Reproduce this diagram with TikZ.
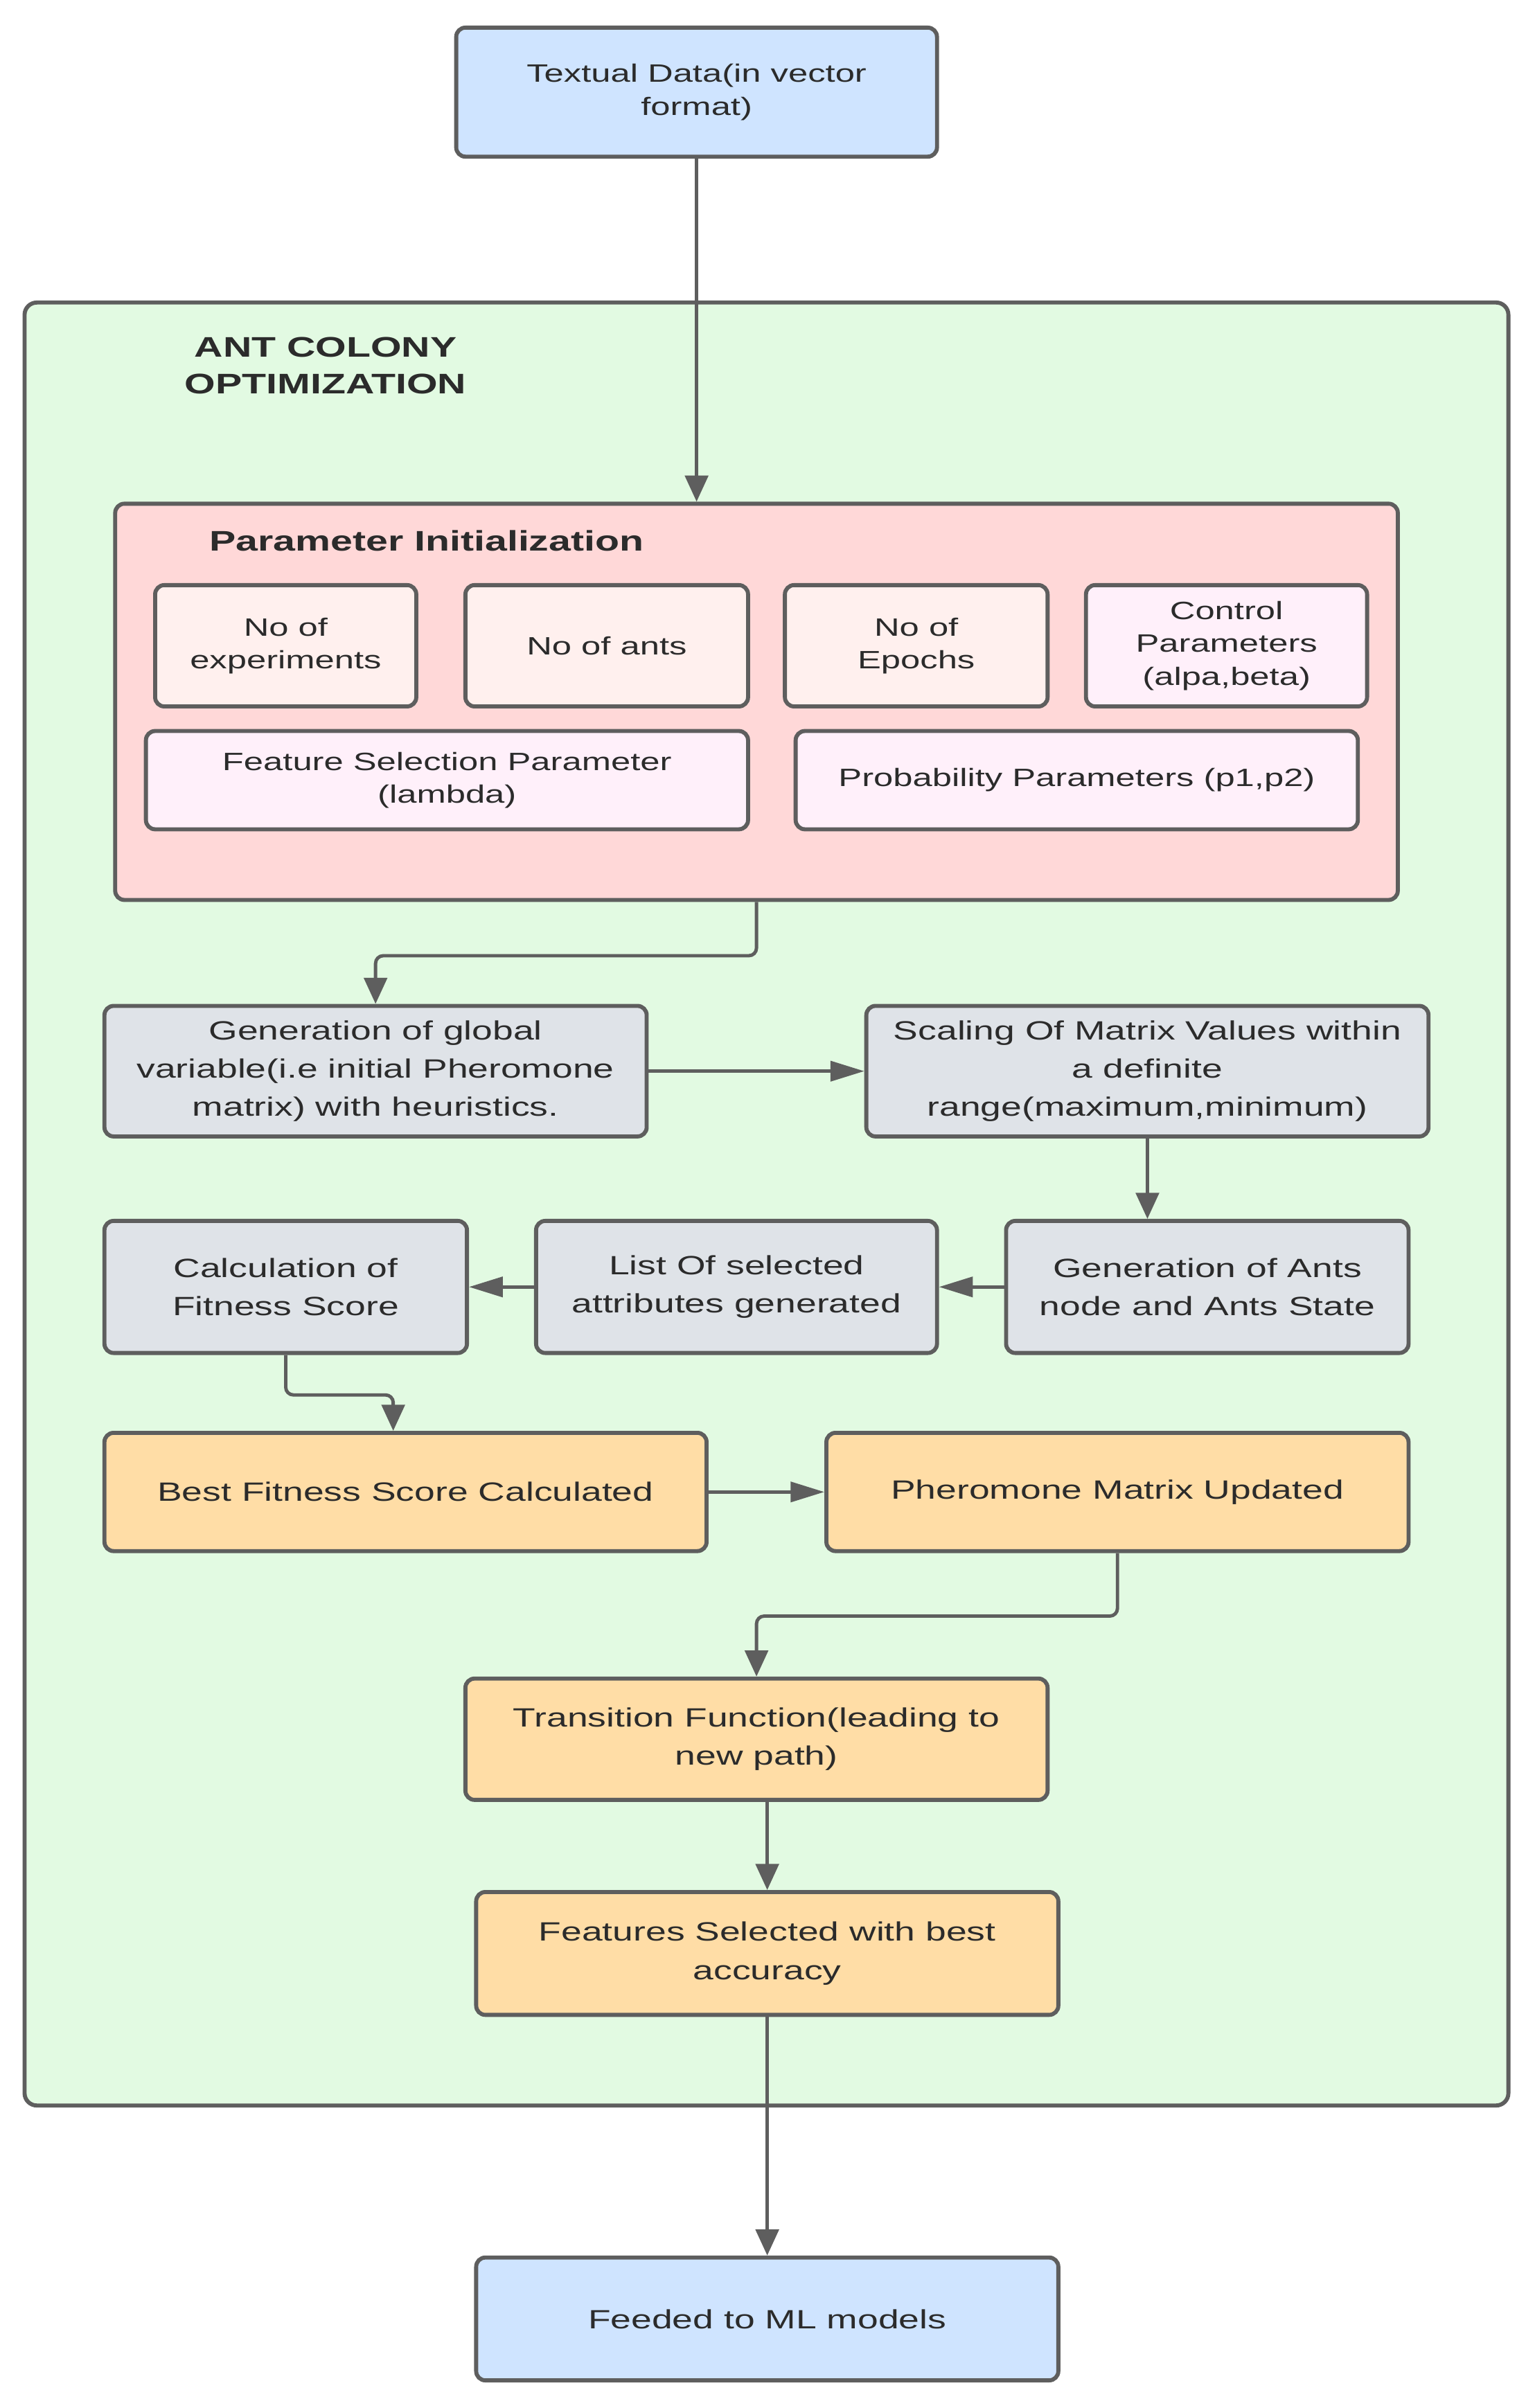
\documentclass[tikz,border=0pt]{standalone}
\usepackage{fontspec}
\setmainfont{Liberation Sans}[FakeStretch=1.4]
\usetikzlibrary{arrows.meta,positioning}
\definecolor{edge}{HTML}{5E5E5E}
\definecolor{ink}{HTML}{2B2B2B}
\definecolor{inblue}{HTML}{CFE4FF}
\definecolor{acogreen}{HTML}{E2FAE2}
\definecolor{parampink}{HTML}{FFD8D8}
\definecolor{subpink}{HTML}{FFF0EE}
\definecolor{sublilac}{HTML}{FFF0FA}
\definecolor{stepgray}{HTML}{DFE3E8}
\definecolor{resorange}{HTML}{FFDDA6}

\begin{document}
\begin{tikzpicture}[x=0.2mm,y=-0.2mm,box/.style={draw=edge,line width=1.5pt,rounded corners=1.2mm,align=center,text=ink,inner sep=0pt,font=\fontsize{9.8}{14.2}\selectfont},small/.style={font=\fontsize{9.3}{12.2}\selectfont},arr/.style={draw=edge,line width=1.25pt,-{Triangle[length=3.4mm,width=3mm]}},harr/.style={draw=edge,line width=1.25pt,-{Triangle[length=4.4mm,width=2.6mm]}}]
\useasboundingbox (0,0) rectangle (999,1568);
% outer ACO frame
\node[box,fill=acogreen,rounded corners=1.6mm,minimum width=193.2mm,minimum height=234.8mm] (aco) at (499,784) {};
\node[align=center,text=ink,font=\fontsize{10.5}{13.6}\selectfont\bfseries] (acotitle) at (212,238) {ANT COLONY\\OPTIMIZATION};
\node[box,small,fill=inblue,minimum width=62.6mm,minimum height=16.8mm] (txt) at (453.5,60) {Textual Data(in vector\\format)};
% parameter initialization
\node[box,fill=parampink,minimum width=167mm,minimum height=51.6mm] (param) at (492.5,457) {};
\node[anchor=west,inner sep=0pt,text=ink,font=\fontsize{10.5}{13}\selectfont\bfseries] (paramtitle) at (136,352) {Parameter Initialization};
\node[box,small,fill=subpink,minimum width=34mm,minimum height=15.8mm] (exp) at (186,420.5) {No of\\experiments};
\node[box,small,fill=subpink,minimum width=36.8mm,minimum height=15.8mm] (ants) at (395,420.5) {No of ants};
\node[box,small,fill=subpink,minimum width=34.2mm,minimum height=15.8mm] (epochs) at (596.5,420.5) {No of\\Epochs};
\node[box,small,fill=sublilac,minimum width=36.6mm,minimum height=15.8mm] (ctrl) at (798.5,420.5) {Control\\Parameters\\(alpa,beta)};
\node[box,small,fill=sublilac,minimum width=78.4mm,minimum height=12.8mm] (fsp) at (291,508) {Feature Selection Parameter\\(lambda)};
\node[box,small,fill=sublilac,minimum width=73.2mm,minimum height=12.8mm] (prob) at (701,508) {Probability Parameters (p1,p2)};
% search steps
\node[box,fill=stepgray,minimum width=70.6mm,minimum height=17mm] (glob) at (244.5,697.5) {Generation of global\\variable(i.e initial Pheromone\\matrix) with heuristics.};
\node[box,fill=stepgray,minimum width=73.2mm,minimum height=17mm] (scale) at (747,697.5) {Scaling Of Matrix Values within\\a definite\\range(maximum,minimum)};
\node[box,fill=stepgray,minimum width=47.2mm,minimum height=17.2mm] (calc) at (186,838) {Calculation of\\Fitness Score};
\node[box,fill=stepgray,minimum width=52.2mm,minimum height=17.2mm] (list) at (479.5,838) {List Of selected\\attributes generated};
\node[box,fill=stepgray,minimum width=52.4mm,minimum height=17.2mm] (antst) at (786,838) {Generation of Ants\\node and Ants State};
\node[box,fill=resorange,minimum width=78.4mm,minimum height=15.4mm] (best) at (264,971.5) {Best Fitness Score Calculated};
\node[box,fill=resorange,minimum width=75.8mm,minimum height=15.4mm] (phero) at (727.5,971.5) {Pheromone Matrix Updated};
\node[box,fill=resorange,minimum width=75.8mm,minimum height=15.8mm] (trans) at (492.5,1132.5) {Transition Function(leading to\\new path)};
\node[box,fill=resorange,minimum width=75.8mm,minimum height=16mm] (feat) at (499.5,1272) {Features Selected with best\\accuracy};
\node[box,fill=inblue,minimum width=75.8mm,minimum height=16mm] (ml) at (499.5,1510) {Feeded to ML models};
% connectors
\draw[arr](txt.south)--(txt.south|-param.north);
\draw[arr,rounded corners=1mm](param.south)--++(0,35)-|(glob.north);
\draw[harr](glob.east)--(scale.west);
\draw[arr](scale.south)--(scale.south|-antst.north);
\draw[harr](antst.west)--(list.east);\draw[harr](list.west)--(calc.east);
\draw[arr,rounded corners=1mm](calc.south)--++(0,26)-|([xshift=-1.6mm]best.north);
\draw[harr](best.east)--(phero.west);
\draw[arr,rounded corners=1mm](phero.south)--++(0,41)-|(trans.north);
\draw[arr](feat.north|-trans.south)--(feat.north);
\draw[arr](feat.south)--(ml.north);
\end{tikzpicture}
\end{document}
